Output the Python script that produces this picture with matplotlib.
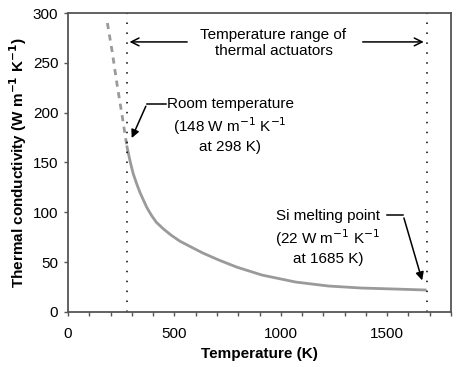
import matplotlib.pyplot as plt
from matplotlib.ticker import MultipleLocator

plt.rcParams['font.family'] = ['Liberation Sans', 'DejaVu Sans']

# extrapolated (dashed) part below the actuator range
T_dash = [185, 207, 230, 255, 276]
k_dash = [290, 262, 229, 196, 167]

# measured curve, room temperature up to the Si melting point
T_solid = [276, 292, 306, 322, 338, 355, 370, 392, 415, 450, 485, 526, 580, 635, 710, 793,
           912, 1070, 1225, 1380, 1537, 1685]
k_solid = [167, 151, 139, 129, 120, 112, 105, 97, 90, 83, 77, 71, 65, 59, 52, 45,
           37, 30, 26, 24, 23, 22]

T_room = 276
T_melt = 1685

xticks = [0, 500, 1000, 1500]
yticks = [0, 50, 100, 150, 200, 250, 300]

fig = plt.figure(figsize=(4.74, 3.67), dpi=100)
ax = fig.add_axes([0.1435, 0.15, 0.808, 0.8145])

curve_col = '#9a9a9a'
ax.plot(T_dash, k_dash, color=curve_col, lw=2, ls=(0, (2.2, 2.0)))
ax.plot(T_solid, k_solid, color=curve_col, lw=2, solid_capstyle='butt',
        solid_joinstyle='round')

for T in (T_room, T_melt):
    ax.axvline(T, color='black', lw=1.1, ls=(0, (1, 5.5)))

ax.set_xlim(0, 1800)
ax.set_ylim(0, 300)
ax.set_xticks(xticks)
ax.set_yticks(yticks)
ax.xaxis.set_minor_locator(MultipleLocator(100))
ax.tick_params(axis='both', which='both', direction='out', length=3, width=1,
               color='#555555', labelsize=11, pad=4)
ax.tick_params(axis='x', pad=8)
for s in ax.spines.values():
    s.set_color('#555555')
    s.set_linewidth(1.3)

ax.set_xlabel('Temperature (K)', fontsize=11, fontweight='bold', labelpad=4)
ax.set_ylabel(r'Thermal conductivity (W m$^{\mathbf{-1}}$ K$^{\mathbf{-1}}$)',
              fontsize=11, fontweight='bold', labelpad=3)

arrow = dict(arrowstyle='->', color='black', lw=1.1, mutation_scale=14)

# temperature range of thermal actuators
ax.text(966, 270, 'Temperature range of\nthermal actuators', ha='center', va='center',
        fontsize=11, linespacing=1.2)
ax.annotate('', xy=(T_room, 271), xytext=(573, 271), arrowprops=arrow)
ax.annotate('', xy=(T_melt, 271), xytext=(1372, 271), arrowprops=arrow)

# room temperature label
ax.text(762, 187, 'Room temperature\n(148 W m$^{-1}$ K$^{-1}$\nat 298 K)', ha='center',
        va='center', fontsize=11, linespacing=1.25)
ax.plot([460, 371], [209, 209], color='black', lw=1.1)
ax.annotate('', xy=(294, 172), xytext=(371, 209),
            arrowprops=dict(arrowstyle='-|>', color='black', lw=1.1, mutation_scale=12))

# Si melting point label
ax.text(1222, 75, 'Si melting point\n(22 W m$^{-1}$ K$^{-1}$\nat 1685 K)', ha='center',
        va='center', fontsize=11, linespacing=1.25)
ax.plot([1499, 1575], [97, 97], color='black', lw=1.1)
ax.annotate('', xy=(1668, 29), xytext=(1575, 97),
            arrowprops=dict(arrowstyle='-|>', color='black', lw=1.1, mutation_scale=12))

fig.savefig('out.png', dpi=100)
